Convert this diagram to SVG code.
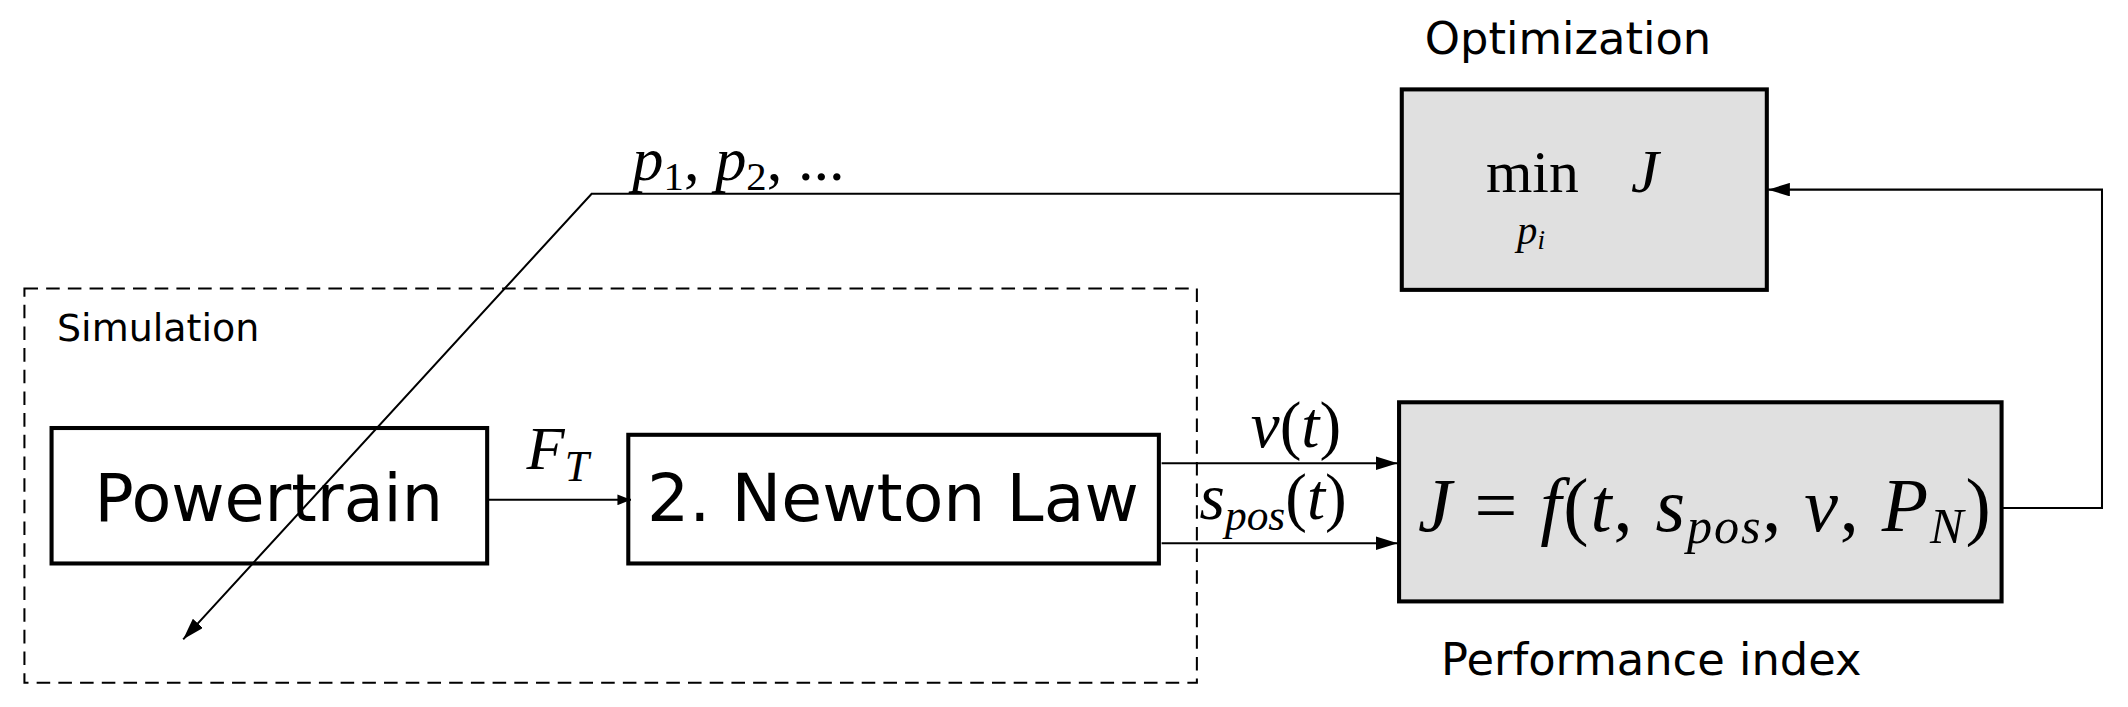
<svg xmlns="http://www.w3.org/2000/svg" width="2128" height="707" viewBox="0 0 2128 707">
<style>
.box{stroke:#000;stroke-width:3}
.sans{font-family:"DejaVu Sans",sans-serif;fill:#000}
.m{font-family:"Liberation Serif",serif;font-style:italic;fill:#000}
.r{font-family:"Liberation Serif",serif;fill:#000}
.ln{stroke:#000;stroke-width:1.5;fill:none}
</style>
<defs><marker id="a" markerWidth="10" markerHeight="8" refX="10" refY="4" orient="auto" markerUnits="userSpaceOnUse"><path d="M0,0L10,4L0,8z" fill="#000"/></marker>
<marker id="b" markerWidth="16" markerHeight="10" refX="16" refY="5" orient="auto" markerUnits="userSpaceOnUse"><path d="M0,0L16,5L0,10z" fill="#000"/></marker></defs>
<rect width="2128" height="707" fill="#fff"/>
<g transform="scale(1.357,1.3545)">
<g id="simulation"><rect x="18" y="213" width="864" height="291" fill="none" stroke="#000" stroke-width="1.5" stroke-dasharray="10,6"/>
<text class="sans" x="42" y="252" font-size="28">Simulation</text></g>
<g id="powertrain"><rect class="box" x="38" y="316" width="321" height="100" fill="#fff"/>
<text class="sans" x="198" y="385" font-size="48" text-anchor="middle">Powertrain</text></g>
<g id="newton"><rect class="box" x="463" y="321" width="391" height="95" fill="#fff"/>
<text class="sans" x="658" y="385" font-size="49" text-anchor="middle">2. Newton Law</text></g>
<g id="optimization"><rect class="box" x="1033" y="66" width="269" height="148" fill="#e0e0e0"/>
<text class="sans" x="1050" y="40" font-size="33">Optimization</text>
<text class="r" x="1095" y="142" font-size="44">min</text><text class="m" x="1202" y="142" font-size="46">J</text>
<text class="m" x="1118" y="180" font-size="30">p<tspan font-size="20" dy="4">i</tspan></text></g>
<g id="performance"><rect class="box" x="1031" y="297" width="444" height="147" fill="#e0e0e0"/>
<text x="1045" y="392" font-size="56" textLength="422"><tspan class="m">J</tspan><tspan class="r"> = </tspan><tspan class="m">f</tspan><tspan class="r">(</tspan><tspan class="m">t</tspan><tspan class="r">, </tspan><tspan class="m">s</tspan><tspan class="m" font-size="37" dy="9">pos</tspan><tspan class="r" dy="-9">, </tspan><tspan class="m">v</tspan><tspan class="r">, </tspan><tspan class="m">P</tspan><tspan class="m" font-size="37" dy="9">N</tspan><tspan class="r" dy="-9">)</tspan></text>
<text class="sans" x="1062" y="498" font-size="33">Performance index</text></g>
<g id="connectors">
<path class="ln" d="M1033,143H436L135,472" marker-end="url(#b)"/>
<path class="ln" d="M359,369H465" marker-end="url(#a)"/>
<path class="ln" d="M856,342H1030" marker-end="url(#b)"/>
<path class="ln" d="M856,401H1030" marker-end="url(#b)"/>
<path class="ln" d="M1475,375H1549V140H1303" marker-end="url(#b)"/>
<text x="466" y="133" font-size="46"><tspan class="m">p</tspan><tspan class="r" font-size="30" dy="7">1</tspan><tspan class="r" dy="-7">, </tspan><tspan class="m">p</tspan><tspan class="r" font-size="30" dy="7">2</tspan><tspan class="r" dy="-7">, ...</tspan></text>
<text x="388" y="346" font-size="46"><tspan class="m">F</tspan><tspan class="m" font-size="32" dy="9">T</tspan></text>
<text x="955" y="330" font-size="48" text-anchor="middle"><tspan class="m">v</tspan><tspan class="r">(</tspan><tspan class="m">t</tspan><tspan class="r">)</tspan></text>
<text x="884" y="383" font-size="48"><tspan class="m">s</tspan><tspan class="m" font-size="32" dy="8">pos</tspan><tspan class="r" dy="-8">(</tspan><tspan class="m">t</tspan><tspan class="r">)</tspan></text>
</g>
</g>
</svg>
